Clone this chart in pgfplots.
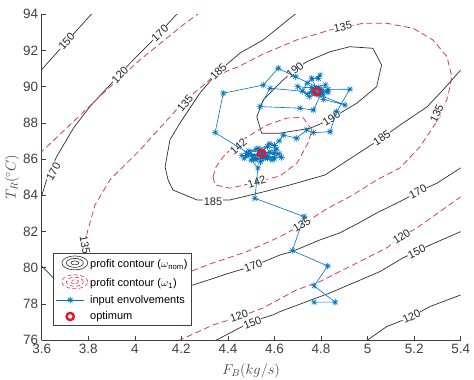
\documentclass[border=0pt]{standalone}
\usepackage{fontspec}
\setmainfont{Liberation Sans}
\usepackage{pgfplots}
\pgfplotsset{compat=1.18}
\definecolor{cblack}{rgb}{0.18,0.18,0.18}
\definecolor{cred}{RGB}{222,55,80}
\definecolor{cblue}{RGB}{0,114,189}
\definecolor{copt}{RGB}{232,20,40}
\definecolor{axgray}{RGB}{64,64,64}
\pgfdeclareplotmark{mstar}{%
  \pgfpathmoveto{\pgfqpoint{-\pgfplotmarksize}{0pt}}\pgfpathlineto{\pgfqpoint{\pgfplotmarksize}{0pt}}%
  \pgfpathmoveto{\pgfqpoint{0pt}{-\pgfplotmarksize}}\pgfpathlineto{\pgfqpoint{0pt}{\pgfplotmarksize}}%
  \pgfpathmoveto{\pgfqpoint{-0.707\pgfplotmarksize}{-0.707\pgfplotmarksize}}\pgfpathlineto{\pgfqpoint{0.707\pgfplotmarksize}{0.707\pgfplotmarksize}}%
  \pgfpathmoveto{\pgfqpoint{-0.707\pgfplotmarksize}{0.707\pgfplotmarksize}}\pgfpathlineto{\pgfqpoint{0.707\pgfplotmarksize}{-0.707\pgfplotmarksize}}%
  \pgfusepathqstroke}
\tikzset{clab/.style={fill=white, inner sep=0.5pt, font=\fontsize{11}{12}\selectfont, text=black!85}}
\pgfplotsset{
  bl/.style={cblack, line width=0.7pt, forget plot},
  rd/.style={cred, line width=0.8pt, dash pattern=on 6pt off 3.5pt, forget plot}}
\begin{document}
\begin{tikzpicture}
\begin{axis}[
  scale only axis, width=419pt, height=325.7pt,
  xmin=3.6, xmax=5.4, ymin=76, ymax=94,
  xtick={3.6,3.8,4,4.2,4.4,4.6,4.8,5,5.2,5.4},
  ytick={76,78,80,82,84,86,88,90,92,94},
  axis lines*=left,
  axis line style={axgray, line width=0.5pt},
  tick style={axgray, line width=0.5pt},
  tick align=inside, major tick length=4pt,
  /pgf/number format/assume math mode=true,
  ticklabel style={font=\fontsize{13.5}{15}\selectfont, text=axgray},
  xticklabel style={yshift=-1pt},
  xlabel={$F_B(kg/s)$}, ylabel={$T_R(^\circ C)$},
  label style={font=\fontsize{14}{16}\selectfont, text=axgray},
  xlabel style={at={(axis description cs:0.5,-0.095)}, anchor=center},
  ylabel style={at={(axis description cs:-0.071,0.5)}, anchor=center},
  legend image code/.code={\draw[mark repeat=2,mark phase=2] plot coordinates {(0cm,0cm) (0.5cm,0cm) (1cm,0cm)};},
  legend cell align=left,
  legend style={at={(0.028,0.266)}, anchor=north west, draw=axgray, line width=0.5pt,
    font=\fontsize{11}{13}\selectfont, row sep=3pt, inner sep=2pt},
]
% black contours (omega_nom)
\addplot[bl] coordinates {(3.59,90.8) (3.707,92.49) (3.82,94.1)};
\addplot[bl] coordinates {(3.58,83.5) (3.600,83.96) (3.621,84.85) (3.664,86.13) (3.736,87.70) (3.807,88.90) (3.893,90.09) (3.972,91.20) (4.065,92.40) (4.180,94.0) (4.20,94.3)};
\addplot[bl] coordinates {(4.70,94.1) (4.688,94.0) (4.551,92.58) (4.452,91.86) (4.357,90.81) (4.280,89.65) (4.194,87.99) (4.151,87.06) (4.130,85.56) (4.143,84.85) (4.164,84.29) (4.267,83.74) (4.409,83.74) (4.551,84.18) (4.667,84.57) (4.817,85.12) (4.937,86.12) (5.062,87.17) (5.152,87.99) (5.255,88.88) (5.324,89.82) (5.400,90.92) (5.41,91.0)};
\addplot[bl] coordinates {(4.524,88.34) (4.552,89.27) (4.637,90.37) (4.688,90.92) (4.738,91.38) (4.838,91.93) (4.924,92.21) (5.023,92.12) (5.060,91.20) (5.039,90.00) (4.953,89.08) (4.881,88.53) (4.838,88.16) (4.752,87.70) (4.624,87.43) (4.545,87.43) (4.524,88.34)};
\addplot[bl] coordinates {(3.59,80.15) (3.600,80.09) (3.650,79.43) (3.807,78.66) (4.023,78.60) (4.251,79.04) (4.409,79.71) (4.509,80.09) (4.624,80.70) (4.674,80.88) (4.795,81.53) (4.881,81.92) (4.967,82.50) (5.039,83.02) (5.139,83.65) (5.216,84.18) (5.297,84.66) (5.400,85.51) (5.41,85.6)};
\addplot[bl] coordinates {(4.34,75.95) (4.351,76.0) (4.409,76.39) (4.502,77.02) (4.594,77.39) (4.624,77.57) (4.838,78.60) (5.053,79.78) (5.152,80.54) (5.211,80.88) (5.268,81.25) (5.400,81.99) (5.41,82.05)};
\addplot[bl] coordinates {(4.995,75.95) (5.000,76.0) (5.082,76.74) (5.189,77.29) (5.268,77.85) (5.400,78.49) (5.41,78.55)};
% red dashed contours (omega_1)
\addplot[rd] coordinates {(3.59,86.3) (3.600,86.41) (3.736,88.07) (3.879,89.82) (4.022,91.48) (4.216,93.50) (4.28,94.1)};
\addplot[rd] coordinates {(4.246,79.82) (4.336,80.26) (4.481,80.88) (4.624,81.71) (4.718,82.36) (4.817,83.19) (4.937,84.02) (5.040,84.85) (5.139,85.51) (5.225,86.68) (5.311,88.34) (5.345,89.45) (5.362,90.55) (5.341,91.66) (5.281,92.58) (5.195,93.23) (5.083,93.50) (4.980,93.50) (4.838,93.13) (4.695,92.58) (4.551,91.80) (4.444,91.10) (4.336,90.55) (4.280,89.91) (4.216,89.27) (4.165,88.53) (4.022,86.50) (3.893,84.85) (3.829,83.46) (3.795,81.92) (3.786,80.98) (3.807,79.60) (3.893,79.04) (4.065,79.21) (4.246,79.82)};
\addplot[rd] coordinates {(4.336,85.01) (4.345,84.57) (4.409,84.39) (4.525,84.73) (4.624,85.07) (4.697,85.78) (4.744,86.89) (4.761,87.61) (4.722,88.30) (4.654,88.27) (4.568,87.88) (4.482,87.22) (4.422,86.67) (4.379,86.12) (4.349,85.56) (4.336,85.01)};
\addplot[rd] coordinates {(4.19,75.9) (4.194,76.0) (4.336,76.83) (4.452,77.29) (4.551,77.77) (4.695,78.77) (4.795,79.23) (4.937,80.15) (5.082,81.09) (5.146,81.71) (5.211,82.19) (5.400,83.91) (5.41,84.0)};
% contour labels
\node[clab, rotate=48] at (axis cs:3.707,92.49) {150};
\node[clab, rotate=62] at (axis cs:3.650,85.30) {170};
\node[clab, rotate=47] at (axis cs:3.936,90.65) {120};
\node[clab, rotate=44] at (axis cs:4.108,92.95) {170};
\node[clab, rotate=50] at (axis cs:4.216,89.08) {135};
\node[clab, rotate=45] at (axis cs:4.359,90.83) {185};
\node[clab, rotate=0] at (axis cs:4.336,83.63) {185};
\node[clab, rotate=34] at (axis cs:5.061,87.17) {185};
\node[clab, rotate=38] at (axis cs:4.688,90.92) {190};
\node[clab, rotate=32] at (axis cs:4.845,88.25) {190};
\node[clab, rotate=42] at (axis cs:4.445,86.69) {142};
\node[clab, rotate=18] at (axis cs:4.524,84.75) {142};
\node[clab, rotate=12] at (axis cs:4.894,93.31) {135};
\node[clab, rotate=65] at (axis cs:5.297,88.53) {135};
\node[clab, rotate=32] at (axis cs:4.717,82.36) {135};
\node[clab, rotate=-80] at (axis cs:3.786,81.25) {135};
\node[clab, rotate=20] at (axis cs:4.509,80.09) {170};
\node[clab, rotate=28] at (axis cs:5.216,84.18) {170};
\node[clab, rotate=22] at (axis cs:4.505,76.95) {150};
\node[clab, rotate=26] at (axis cs:5.211,80.88) {150};
\node[clab, rotate=25] at (axis cs:5.189,77.29) {120};
\node[clab, rotate=19] at (axis cs:4.448,77.35) {120};
\node[clab, rotate=34] at (axis cs:5.146,81.71) {120};
% legend images for contours
\addlegendimage{legend image code/.code={
  \draw[cblack, line width=0.6pt] (0.5cm,0) ellipse (13pt and 7pt);
  \draw[cblack, line width=0.6pt] (0.5cm,0) ellipse (8.5pt and 4.5pt);
  \draw[cblack, line width=0.6pt] (0.5cm,0) ellipse (4pt and 2pt);}}
\addlegendentry{profit contour ($\omega$\textsubscript{nom})}
\addlegendimage{legend image code/.code={
  \draw[cred, line width=0.6pt, dash pattern=on 4pt off 2.5pt] (0.5cm,0) ellipse (13pt and 7pt);
  \draw[cred, line width=0.6pt, dash pattern=on 4pt off 2.5pt] (0.5cm,0) ellipse (8.5pt and 4.5pt);
  \draw[cred, line width=0.6pt, dash pattern=on 3pt off 2pt] (0.5cm,0) ellipse (4pt and 2pt);}}
\addlegendentry{profit contour ($\omega$\textsubscript{1})}
% input trajectory
\addplot[cblue, line width=0.6pt, mark=mstar, mark size=3.3pt, mark options={solid, line width=0.6pt}] coordinates {
(4.770,78.09) (4.861,78.09) (4.770,78.99) (4.829,80.09) (4.677,80.94) (4.727,82.82) (4.516,83.83) (4.529,85.51)
(4.50,85.95) (4.56,86.10) (4.48,86.30) (4.60,86.05) (4.52,86.55) (4.47,86.05) (4.58,86.40) (4.54,85.85)
(4.62,86.30) (4.49,86.45) (4.57,86.70) (4.61,86.55) (4.53,86.20) (4.46,86.20) (4.59,85.95) (4.55,86.45)
(4.63,86.10) (4.51,86.05) (4.58,86.85) (4.60,86.75) (4.62,87.00) (4.638,87.33) (4.695,87.15) (4.738,87.61)
(4.767,87.46) (4.839,87.51) (4.867,88.62) (4.924,89.86) (4.83,89.85) (4.79,89.55) (4.903,88.99) (4.81,89.30)
(4.76,89.95) (4.82,90.10) (4.767,88.71) (4.710,88.81) (4.538,88.90) (4.581,89.91) (4.72,89.75) (4.74,90.20)
(4.796,90.65) (4.788,90.46) (4.760,90.46) (4.78,89.90) (4.70,90.00) (4.75,89.45) (4.80,89.70) (4.77,89.60)
(4.80,89.85) (4.76,89.75) (4.81,89.55) (4.79,89.95) (4.74,89.60) (4.83,89.70) (4.69,90.55) (4.616,91.02)
(4.552,90.09) (4.380,89.64) (4.345,87.46) (4.49,86.30) (4.55,86.25) (4.53,86.60) (4.57,86.05) (4.52,85.95)
(4.60,86.35) (4.545,86.32)};
\addlegendentry{input envolvements}
\addplot[only marks, mark=o, mark size=3.6pt, copt, line width=2.4pt] coordinates {(4.545,86.32) (4.781,89.72)};
\addlegendentry{optimum}
\end{axis}
\pgfresetboundingbox
\path[use as bounding box] ([shift={(-41.7pt,-40pt)}]current axis.south west) rectangle ([shift={(432.3pt,340pt)}]current axis.south west);
\end{tikzpicture}
\end{document}
